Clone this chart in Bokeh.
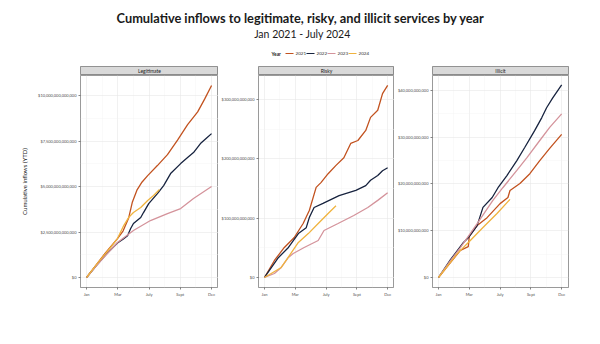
from bokeh.plotting import figure
from bokeh.layouts import column, row
from bokeh.models import FixedTicker, Range1d
from bokeh.embed import file_html
from bokeh.resources import INLINE
from bokeh.core.properties import value

FONT = "Lato"

years = ["2021", "2022", "2023", "2024"]
year_colors = ["#c2521f", "#17233f", "#d4939b", "#f0b33e"]

x_ticks = [0, 90, 180, 270, 360]
x_tick_labels = ["Jan", "Mar", "July", "Sept", "Dec"]

# Legitimate (billions USD), x = day of year
legit_2021_d = [0, 30, 55, 89, 105, 121, 132, 145, 160, 176, 204, 233, 262, 291, 320, 340, 360]
legit_2021_v = [0, 750, 1370, 2140, 2550, 3250, 4150, 4800, 5250, 5600, 6150, 6750, 7550, 8400, 9100, 9800, 10550]
legit_2022_d = [0, 30, 60, 89, 105, 118, 127, 135, 156, 164, 179, 204, 222, 242, 271, 291, 308, 328, 345, 360]
legit_2022_v = [0, 700, 1350, 1900, 2100, 2300, 2690, 2965, 3294, 3569, 4063, 4612, 5051, 5710, 6259, 6588, 6863, 7357, 7650, 7906]
legit_2023_d = [0, 30, 60, 89, 135, 184, 233, 271, 308, 360]
legit_2023_v = [0, 680, 1320, 1920, 2580, 3129, 3514, 3788, 4337, 4996]
legit_2024_d = [0, 30, 69, 89, 107, 121, 135, 156, 176, 193, 210]
legit_2024_v = [0, 750, 1647, 2141, 2855, 3294, 3569, 3843, 4227, 4502, 4831]

# Risky (billions USD)
risky_2021_d = [0, 29, 58, 87, 113, 131, 151, 165, 186, 209, 232, 252, 273, 296, 310, 331, 345, 360]
risky_2021_v = [0, 28.7, 50.6, 67.4, 91, 113, 152, 160, 175, 189, 202, 226, 231, 248, 270, 282, 310, 324]
risky_2022_d = [0, 41, 70, 99, 122, 131, 145, 171, 218, 267, 296, 310, 331, 345, 360]
risky_2022_v = [0, 33.7, 50.6, 74, 84, 101, 118, 125, 138, 147, 155, 164, 172, 180, 185]
risky_2023_d = [0, 29, 49, 70, 84, 116, 157, 174, 215, 261, 302, 331, 360]
risky_2023_v = [0, 6.7, 16.9, 33.7, 40.5, 50.6, 62.4, 79.2, 91, 104.5, 118, 130, 143]
risky_2024_d = [0, 49, 99, 128, 157, 186, 209]
risky_2024_v = [0, 16.9, 59, 74, 91, 108, 121]

# Illicit (billions USD)
illicit_2021_d = [0, 35, 64, 87, 90, 113, 142, 180, 203, 209, 238, 267, 296, 325, 360]
illicit_2021_v = [0, 3.2, 5.8, 6.6, 8.8, 11.1, 12.8, 15.8, 17.1, 18.6, 20.1, 22.2, 25.0, 27.6, 30.6]
illicit_2022_d = [0, 35, 73, 87, 113, 130, 157, 174, 200, 229, 252, 281, 302, 316, 333, 360]
illicit_2022_v = [0, 3.8, 7.5, 8.5, 11.1, 15.0, 17.1, 19.2, 21.8, 25.0, 27.8, 31.4, 34.2, 36.3, 38.3, 41.2]
illicit_2023_d = [0, 35, 64, 113, 159, 188, 229, 258, 296, 325, 360]
illicit_2023_v = [0, 3.6, 6.4, 11.5, 16.5, 19.2, 22.9, 25.6, 29.3, 32.1, 35.0]
illicit_2024_d = [0, 55, 93, 130, 171, 209]
illicit_2024_v = [0, 5.1, 7.9, 10.7, 13.7, 16.7]

legit_ticks = [0, 2500, 5000, 7500, 10000]
legit_tick_labels = ["$0", "$2,500,000,000,000", "$5,000,000,000,000", "$7,500,000,000,000", "$10,000,000,000,000"]
risky_ticks = [0, 100, 200, 300]
risky_tick_labels = ["$0", "$100,000,000,000", "$200,000,000,000", "$300,000,000,000"]
illicit_ticks = [0, 10, 20, 30, 40]
illicit_tick_labels = ["$0", "$10,000,000,000", "$20,000,000,000", "$30,000,000,000", "$40,000,000,000"]

panels = [
    dict(name="Legitimate", series=[(legit_2021_d, legit_2021_v), (legit_2022_d, legit_2022_v),
                                    (legit_2023_d, legit_2023_v), (legit_2024_d, legit_2024_v)],
         ticks=legit_ticks, labels=legit_tick_labels, yr=(-549, 11099),
         width=218, bl=80, br=0),
    dict(name="Risky", series=[(risky_2021_d, risky_2021_v), (risky_2022_d, risky_2022_v),
                               (risky_2023_d, risky_2023_v), (risky_2024_d, risky_2024_v)],
         ticks=risky_ticks, labels=risky_tick_labels, yr=(-16.9, 340.6),
         width=176, bl=39, br=0),
    dict(name="Illicit", series=[(illicit_2021_d, illicit_2021_v), (illicit_2022_d, illicit_2022_v),
                                 (illicit_2023_d, illicit_2023_v), (illicit_2024_d, illicit_2024_v)],
         ticks=illicit_ticks, labels=illicit_tick_labels, yr=(-2.14, 43.2),
         width=206, bl=37, br=32),
]

cols = []
for i, pn in enumerate(panels):
    # facet strip
    s = figure(width=pn["width"], height=13, output_backend="svg", toolbar_location=None,
               x_range=Range1d(0, 1), y_range=Range1d(0, 1),
               min_border_left=pn["bl"], min_border_right=pn["br"],
               min_border_top=4, min_border_bottom=0)
    s.axis.visible = False
    s.grid.visible = False
    s.title = None
    s.background_fill_color = "#d9d9d9"
    s.border_fill_color = "white"
    s.outline_line_color = "#555555"
    s.outline_line_width = 0.6
    s.text(x=[0.5], y=[0.5], text=[pn["name"]], text_font=value(FONT), text_font_size="5px",
           text_color="#1a1a1a", text_align="center", text_baseline="middle")

    p = figure(width=pn["width"], height=269, output_backend="svg", toolbar_location=None,
               x_range=Range1d(-17.5, 380), y_range=Range1d(*pn["yr"]),
               min_border_left=pn["bl"], min_border_right=pn["br"],
               min_border_top=0, min_border_bottom=57)
    p.title = None
    for (d, v), c in zip(pn["series"], year_colors):
        p.line(d, v, color=c, line_width=1.3)
    p.outline_line_color = "#555555"
    p.outline_line_width = 0.6
    p.background_fill_color = "white"
    p.border_fill_color = "white"

    t = pn["ticks"]
    minors = [(t[k] + t[k + 1]) / 2 for k in range(len(t) - 1)]
    p.yaxis.ticker = FixedTicker(ticks=t, minor_ticks=minors)
    p.yaxis.major_label_overrides = {tv: lab for tv, lab in zip(t, pn["labels"])}
    p.xaxis.ticker = FixedTicker(ticks=x_ticks, minor_ticks=[45, 135, 225, 315])
    p.xaxis.major_label_overrides = {tv: lab for tv, lab in zip(x_ticks, x_tick_labels)}
    for ax in (p.xaxis, p.yaxis):
        ax.axis_line_color = None
        ax.major_tick_line_color = "#333333"
        ax.major_tick_line_width = 0.6
        ax.major_tick_out = 2
        ax.major_tick_in = 0
        ax.minor_tick_line_color = None
        ax.major_label_text_font = FONT
        ax.major_label_text_font_size = "4px"
        ax.major_label_text_color = "#4d4d4d"
        ax.major_label_standoff = 0
    p.xgrid.grid_line_color = "#e8e8e8"
    p.ygrid.grid_line_color = "#e8e8e8"
    p.xgrid.grid_line_width = 0.6
    p.ygrid.grid_line_width = 0.6
    p.xgrid.minor_grid_line_color = "#f3f3f3"
    p.ygrid.minor_grid_line_color = "#f3f3f3"
    p.xgrid.minor_grid_line_width = 0.4
    p.ygrid.minor_grid_line_width = 0.4
    if i == 0:
        p.yaxis.axis_label = "Cumulative inflows (YTD)"
        p.yaxis.axis_label_text_font = FONT
        p.yaxis.axis_label_text_font_size = "6px"
        p.yaxis.axis_label_text_font_style = "normal"
        p.yaxis.axis_label_text_color = "#1a1a1a"
        p.yaxis.axis_label_standoff = 7
    cols.append(column(s, p, spacing=0))

# header with title, subtitle and legend
h = figure(width=600, height=62, output_backend="svg", toolbar_location=None,
           x_range=Range1d(0, 600), y_range=Range1d(62, 0),
           min_border=0, min_border_left=0, min_border_right=0, min_border_top=0, min_border_bottom=0)
h.axis.visible = False
h.grid.visible = False
h.outline_line_color = None
h.title = None
h.text(x=[300], y=[17], text=["Cumulative inflows to legitimate, risky, and illicit services by year"],
       text_font=value(FONT), text_font_size="12.8px", text_font_style="bold", text_color="#1a1a1a",
       text_align="center", text_baseline="middle")
h.text(x=[302], y=[33], text=["Jan 2021 - July 2024"],
       text_font=value(FONT), text_font_size="10.5px", text_color="#1a1a1a",
       text_align="center", text_baseline="middle")
h.text(x=[271], y=[53], text=["Year"], text_font=value(FONT), text_font_size="4.8px",
       text_font_style="bold", text_color="#1a1a1a", text_align="left", text_baseline="middle")
lx = 285
for yr, c in zip(years, year_colors):
    h.segment(x0=[lx], y0=[53], x1=[lx + 8], y1=[53], line_color=c, line_width=1.2)
    h.text(x=[lx + 10], y=[53], text=[yr], text_font=value(FONT), text_font_size="4.6px",
           text_color="#333333", text_align="left", text_baseline="middle")
    lx += 21

layout = column(h, row(*cols, spacing=0), spacing=0)
open("out.html", "w").write(file_html(layout, INLINE))
